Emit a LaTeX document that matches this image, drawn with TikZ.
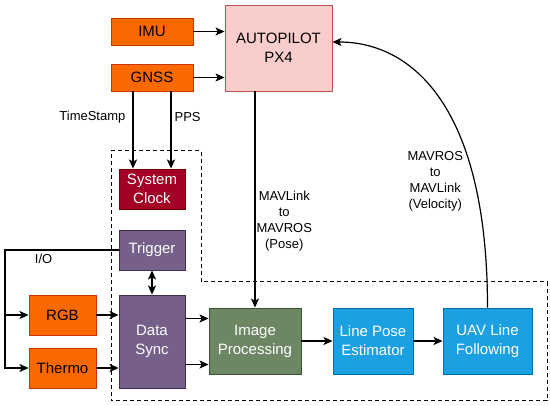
\documentclass[tikz,border=0pt]{standalone}
\usepackage{fontspec}
\setmainfont{Liberation Sans}
\usetikzlibrary{arrows.meta, positioning}
\definecolor{sensorfill}{HTML}{FA6800}
\definecolor{sensorline}{HTML}{C73500}
\definecolor{pxfill}{HTML}{F8CECC}
\definecolor{pxline}{HTML}{B85450}
\definecolor{clockfill}{HTML}{A20025}
\definecolor{clockline}{HTML}{6F0000}
\definecolor{syncfill}{HTML}{76608A}
\definecolor{syncline}{HTML}{432D57}
\definecolor{imgfill}{HTML}{6D8764}
\definecolor{imgline}{HTML}{3A5431}
\definecolor{lineblue}{HTML}{1BA1E2}
\definecolor{lineblueline}{HTML}{006EAF}
\tikzset{
    >={Stealth[length=9pt,width=8pt,inset=2pt]},
    block/.style={
        rectangle,
        draw=#1,
        line width=0.9pt,
        align=center,
        inner sep=0pt,
        font=\fontsize{15}{19}\selectfont
    },
    sensor/.style={block=sensorline, fill=sensorfill},
    pxbox/.style={block=pxline, fill=pxfill},
    clockbox/.style={block=clockline, fill=clockfill, text=white},
    syncbox/.style={block=syncline, fill=syncfill, text=white},
    imgbox/.style={block=imgline, fill=imgfill, text=white},
    estbox/.style={block=lineblueline, fill=lineblue, text=white},
    arrow/.style={
        ->,
        line width=1.2pt
    },
    lbl/.style={
        font=\fontsize{13}{16}\selectfont,
        align=center,
        inner sep=1pt
    },
    frame/.style={
        dash pattern=on 4pt off 3pt,
        line width=1pt
    }
}
\begin{document}
\begin{tikzpicture}[x=1pt, y=-1pt]
    \useasboundingbox[fill=white] (0,0) rectangle (550,406);
                % dashed frame
                \draw[frame] (111,151) -- (201,151) -- (201,282) -- (547,282) -- (547,401) -- (111,401) -- cycle;

                \node[sensor, minimum width=82pt, minimum height=27pt]   (imu)     at (152,31.5)  {IMU};
                \node[sensor, minimum width=82pt, minimum height=27pt]   (gnss)    at (152,77.5)  {GNSS};
                \node[pxbox, minimum width=107pt, minimum height=86pt]   (ap)      at (278.5,48)  {AUTOPILOT\\PX4};
                \node[clockbox, minimum width=66pt, minimum height=40pt] (clock)   at (152,189)   {System\\Clock};
                \node[syncbox, minimum width=66pt, minimum height=40pt]  (trigger) at (152,250)   {Trigger};
                \node[syncbox, minimum width=66pt, minimum height=93pt]  (sync)    at (152,341.5) {Data\\Sync};
                \node[sensor, minimum width=67pt, minimum height=40pt]   (rgb)     at (62.5,315)  {RGB};
                \node[sensor, minimum width=67pt, minimum height=40pt]   (thermo)  at (62.5,368)  {Thermo};
                \node[imgbox, minimum width=92pt, minimum height=66pt]   (img)     at (255,341)   {Image\\Processing};
                \node[estbox, minimum width=80pt, minimum height=66pt]   (lpe)     at (373,341)   {Line Pose\\Estimator};
                \node[estbox, minimum width=89pt, minimum height=66pt]   (uav)     at (487.5,341) {UAV Line\\Following};
                \coordinate (io) at (5,250);

                \draw[arrow] (imu.east)  -- (imu -| ap.west);
                \draw[arrow] (gnss.east) -- (gnss -| ap.west);
                \draw[arrow] ([xshift=-19pt]gnss.south) -- node[lbl, pos=0.33, left=6pt] {TimeStamp} ([xshift=-19pt]clock.north);
                \draw[arrow] ([xshift=19pt]gnss.south)  -- node[lbl, pos=0.33, right=2pt] {PPS} ([xshift=19pt]clock.north);
                \draw[arrow, <->] (trigger) -- (sync);
                \draw[arrow] (trigger.west) -- node[lbl, pos=0.66, below=2pt] {I/O} (io) |- (thermo.west);
                \draw[arrow] (io) |- (rgb.west);
                \draw[arrow] (rgb.east)    -- (rgb -| sync.west);
                \draw[arrow] (thermo.east) -- (thermo -| sync.west);
                \draw[arrow] ([yshift=23pt]sync.east)  -- ([yshift=23pt]sync.east -| img.west);
                \draw[arrow] ([yshift=-23pt]sync.east) -- ([yshift=-23pt]sync.east -| img.west);
                \draw[arrow] (ap.south -| img.north) -- node[lbl, pos=0.6, right=0pt] {MAVLink\\to\\MAVROS\\(Pose)} (img.north);
                \draw[arrow] (img) -- (lpe);
                \draw[arrow] (lpe) -- (uav);
                \draw[arrow] (uav.north) .. controls +(0,-200) and +(80,0) .. node[lbl, pos=0.25, left=10pt] {MAVROS\\to\\MAVLink\\(Velocity)} ([yshift=6pt]ap.east);
            \end{tikzpicture}
\end{document}
